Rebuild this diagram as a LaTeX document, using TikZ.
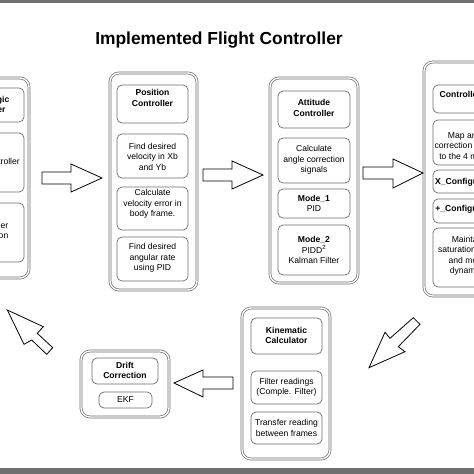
\documentclass[tikz,border=0pt]{standalone}
\usepackage{fontspec}
\setmainfont{Liberation Sans}
\definecolor{boxgray}{HTML}{6E6E6E}
\definecolor{bargray}{HTML}{6F6F6F}
\begin{document}
\begin{tikzpicture}[x=1pt,y=-1pt,
  outerbox/.style={rectangle, draw=boxgray, double=white, double distance=1.4pt, line width=0.7pt, rounded corners=9pt, inner sep=0pt},
  inbox/.style={rectangle, draw=boxgray, line width=0.7pt, rounded corners=5pt, inner sep=0pt},
  txt/.style={font=\fontsize{8.6}{10.5}\selectfont, align=center, inner sep=0pt, text=black},
  btxt/.style={font=\fontsize{8.6}{10.5}\selectfont\bfseries, align=center, inner sep=0pt, text=black},
  blockarrow/.style={draw=black, line width=0.8pt, fill=white, line join=miter}
]
\useasboundingbox (0,0) rectangle (474,474);
\clip (0,0) rectangle (474,474);
\fill[white] (0,0) rectangle (474,474);
% frame bars
\fill[bargray] (0,0) rectangle (474,3);
\fill[bargray] (0,468) rectangle (474,474);

% title
\node[font=\fontsize{17.4}{20}\selectfont\bfseries, inner sep=0pt] (title) at (219,40) {Implemented Flight Controller};

% ---------- left column (cut off) ----------
\node[outerbox, minimum width=87pt, minimum height=200pt] (L) at (-14.5,178) {};
\node[inbox, minimum width=72pt, minimum height=34pt] (L1) at (-12,105) {};
\node[inbox, minimum width=72pt, minimum height=59pt] (L2) at (-12,162.5) {};
\node[inbox, minimum width=72pt, minimum height=59pt] (L3) at (-12,232.5) {};
\node[btxt] (tL1) at (-15,104.5) {Flight Logic\\Controller};
\node[txt, anchor=east] (tL2) at (20,161) {Altitude Controller};
\node[txt, anchor=east, align=right] (tL3) at (8.5,231.5) {Path Planner\\Navigation};

% ---------- position controller ----------
\node[outerbox, minimum width=87pt, minimum height=217pt] (P) at (153.5,181.5) {};
\node[inbox, minimum width=71pt, minimum height=38pt] (P1) at (152.5,104) {};
\node[inbox, minimum width=71pt, minimum height=44pt] (P2) at (152.5,156) {};
\node[inbox, minimum width=71pt, minimum height=43pt] (P3) at (152.5,208.5) {};
\node[inbox, minimum width=71pt, minimum height=44pt] (P4) at (152.5,259) {};
\node[btxt] (tP1) at (152.5,98) {Position\\Controller};
\node[txt] (tP2) at (152.5,156.5) {Find desired\\velocity in Xb\\and Yb};
\node[txt] (tP3) at (152.5,204) {Calculate\\velocity error in\\body frame.};
\node[txt] (tP4) at (152.5,258) {Find desired\\angular rate\\using PID};

% ---------- attitude controller ----------
\node[outerbox, minimum width=88pt, minimum height=205pt] (A) at (314,180.5) {};
\node[inbox, minimum width=72pt, minimum height=37pt] (A1) at (314,109.5) {};
\node[inbox, minimum width=72pt, minimum height=45pt] (A2) at (314,160.5) {};
\node[inbox, minimum width=72pt, minimum height=29pt] (A3) at (314,203.5) {};
\node[inbox, minimum width=72pt, minimum height=50pt] (A4) at (314,250) {};
\node[btxt] (tA1) at (314,108) {Attitude\\Controller};
\node[txt] (tA2) at (314,160) {Calculate\\angle correction\\signals};
\node[txt] (tA3) at (314,203.5) {\textbf{Mode\_1}\\PID};
\node[txt] (tA4) at (314,250) {\textbf{Mode\_2}\\PIDD\textsuperscript{2}\\Kalman Filter};

% ---------- right column (cut off) ----------
\node[outerbox, minimum width=85pt, minimum height=234pt] (R) at (466.5,179) {};
\node[inbox, minimum width=67pt, minimum height=28pt] (R1) at (466.5,99) {};
\node[inbox, minimum width=67pt, minimum height=45pt] (R2) at (466.5,142.5) {};
\node[inbox, minimum width=67pt, minimum height=23pt] (R3) at (466.5,181.5) {};
\node[inbox, minimum width=67pt, minimum height=24pt] (R4) at (466.5,211) {};
\node[inbox, minimum width=67pt, minimum height=59pt] (R5) at (466.5,257.5) {};
\node[btxt, anchor=west] (tR1) at (439.5,94) {Controller Mixer};
\node[txt] (tR2) at (468,145.5) {Map angle\\correction signals\\to the 4 motors};
\node[btxt] (tR3) at (468.5,182) {X\_Configuration};
\node[btxt] (tR4) at (468.5,209) {+\_Configuration};
\node[txt] (tR5) at (468,256) {Maintain\\saturation limits\\and motor\\dynamics};

% ---------- drift correction ----------
\node[outerbox, minimum width=88pt, minimum height=66pt] (D) at (125,384) {};
\node[inbox, minimum width=66pt, minimum height=26pt] (D1) at (125,371) {};
\node[inbox, minimum width=53pt, minimum height=16pt] (D2) at (125.5,400) {};
\node[btxt] (tD1) at (125,370.5) {Drift\\Correction};
\node[txt] (tD2) at (125.5,400) {EKF};

% ---------- kinematic calculator ----------
\node[outerbox, minimum width=88pt, minimum height=151pt] (K) at (286,383.5) {};
\node[inbox, minimum width=71pt, minimum height=36pt] (K1) at (286.5,336) {};
\node[inbox, minimum width=71pt, minimum height=33pt] (K2) at (286.5,387.5) {};
\node[inbox, minimum width=71pt, minimum height=32pt] (K3) at (286.5,428) {};
\node[btxt] (tK1) at (286.5,335.5) {Kinematic\\Calculator};
\node[txt] (tK2) at (286.5,387.5) {Filter readings\\(Comple. Filter)};
\node[txt] (tK3) at (286.5,428) {Transfer reading\\between frames};

% ---------- block arrows ----------
\draw[blockarrow] (42,172) -- (71,172) -- (71,164) -- (102,178) -- (71,192) -- (71,184) -- (42,184) -- cycle;
\draw[blockarrow] (203,169) -- (232,169) -- (232,161) -- (263,175) -- (232,189) -- (232,181) -- (203,181) -- cycle;
\draw[blockarrow] (363,167) -- (393,167) -- (393,159) -- (423,173) -- (393,188) -- (393,179) -- (363,179) -- cycle;
\draw[blockarrow] (233,377) -- (203,377) -- (203,370) -- (174,383) -- (203,397) -- (203,389) -- (233,389) -- cycle;
\draw[blockarrow] (369,367.7) -- (385,332.3) -- (390,338.3) -- (413.3,317.7) -- (420,324.3) -- (398.3,346.7) -- (405,351.7) -- cycle;
\draw[blockarrow] (7.3,310) -- (43.3,326.7) -- (37.3,333.3) -- (52.7,347.7) -- (46.7,354.3) -- (31.7,340) -- (24,344.3) -- cycle;
\end{tikzpicture}
\end{document}
